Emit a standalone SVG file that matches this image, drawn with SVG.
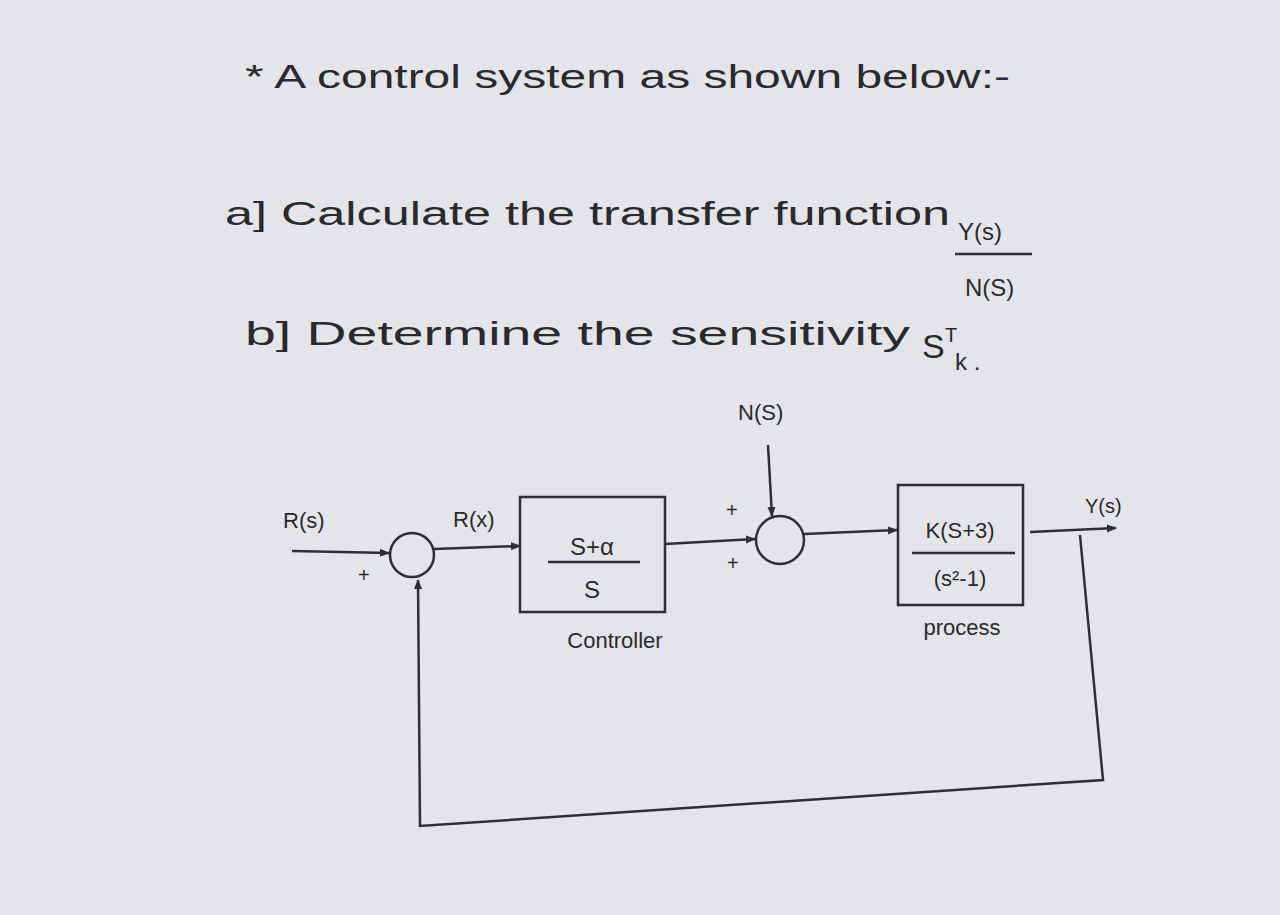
<svg xmlns="http://www.w3.org/2000/svg" width="1280" height="915" viewBox="0 0 1280 915">
<style>
.t{font-family:"Liberation Sans",sans-serif;fill:#2a2a2e}
.l{stroke:#2f2f33;stroke-width:2.5;fill:none}
</style>
<defs><marker id="a" markerWidth="10" markerHeight="10" refX="9" refY="5" orient="auto" markerUnits="userSpaceOnUse"><path d="M0,1 L10,5 L0,9 Z" fill="#2f2f33"/></marker></defs>
<rect width="1280" height="915" fill="#e4e5e8"/>
<text class="t" x="245" y="88" font-size="34" textLength="765" lengthAdjust="spacingAndGlyphs">* A control system as shown below:-</text>
<text class="t" x="225" y="225" font-size="34" textLength="725" lengthAdjust="spacingAndGlyphs">a] Calculate the transfer function</text>
<text class="t" x="958" y="240" font-size="24">Y(s)</text>
<line class="l" x1="955" y1="254" x2="1032" y2="254"/>
<text class="t" x="965" y="296" font-size="24">N(S)</text>
<text class="t" x="245" y="345" font-size="34" textLength="665" lengthAdjust="spacingAndGlyphs">b] Determine the sensitivity</text>
<text class="t" x="922" y="358" font-size="34">S</text>
<text class="t" x="945" y="342" font-size="20">T</text>
<text class="t" x="955" y="370" font-size="24">k .</text>
<g id="sum1"><circle class="l" cx="412" cy="555" r="22"/></g>
<g id="controller"><rect class="l" x="520" y="497" width="145" height="115"/>
<text class="t" x="592" y="555" font-size="24" text-anchor="middle">S+α</text>
<line class="l" x1="548" y1="562" x2="640" y2="562"/>
<text class="t" x="592" y="598" font-size="24" text-anchor="middle">S</text>
<text class="t" x="615" y="648" font-size="22" text-anchor="middle">Controller</text></g>
<g id="sum2"><circle class="l" cx="780" cy="540" r="24"/></g>
<g id="process"><rect class="l" x="898" y="485" width="125" height="120"/>
<text class="t" x="960" y="538" font-size="22" text-anchor="middle">K(S+3)</text>
<line class="l" x1="912" y1="553" x2="1015" y2="553"/>
<text class="t" x="960" y="586" font-size="22" text-anchor="middle">(s²-1)</text>
<text class="t" x="962" y="635" font-size="22" text-anchor="middle">process</text></g>
<g id="labels">
<text class="t" x="283" y="528" font-size="22">R(s)</text>
<text class="t" x="453" y="527" font-size="22">R(x)</text>
<text class="t" x="738" y="420" font-size="22">N(S)</text>
<text class="t" x="1085" y="513" font-size="20">Y(s)</text>
<text class="t" x="358" y="582" font-size="20">+</text>
<text class="t" x="726" y="517" font-size="20">+</text>
<text class="t" x="727" y="570" font-size="20">+</text>
</g>
<g id="connectors">
<line class="l" x1="292" y1="551" x2="389" y2="553" marker-end="url(#a)"/>
<line class="l" x1="434" y1="549" x2="520" y2="546" marker-end="url(#a)"/>
<line class="l" x1="665" y1="544" x2="755" y2="539" marker-end="url(#a)"/>
<line class="l" x1="768" y1="445" x2="772" y2="516" marker-end="url(#a)"/>
<line class="l" x1="804" y1="534" x2="897" y2="530" marker-end="url(#a)"/>
<line class="l" x1="1030" y1="532" x2="1116" y2="528" marker-end="url(#a)"/>
<polyline class="l" points="1080,535 1103,780 420,826 418,580" marker-end="url(#a)"/>
</g>
</svg>
